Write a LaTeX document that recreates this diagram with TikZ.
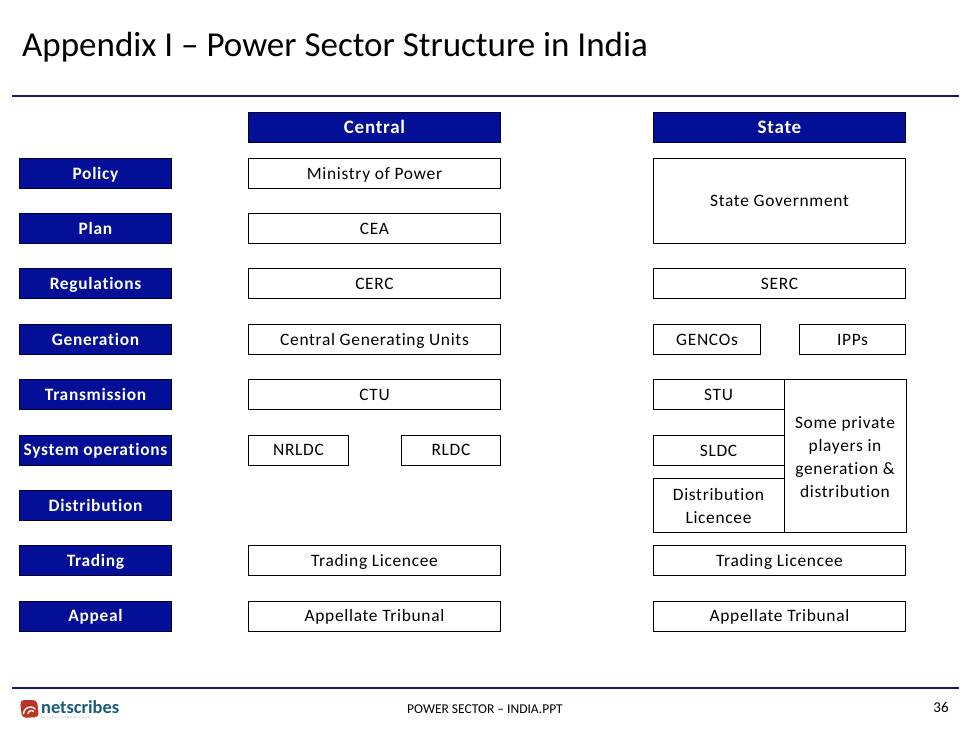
\documentclass[tikz,border=0pt]{standalone}
\usepackage{fontspec}
\setmainfont[Ligatures=NoCommon]{Carlito}
\newfontfamily\spaced[LetterSpace=4,Ligatures=NoCommon]{Carlito}
\newfontfamily\widest[LetterSpace=55]{Carlito}
\definecolor{boxblue}{RGB}{3,15,150}
\definecolor{ruleblue}{RGB}{20,25,110}
\definecolor{logored}{RGB}{185,55,40}
\definecolor{logoteal}{RGB}{25,90,125}
\tikzset{
  rowbox/.style={draw=black!80!blue,fill=boxblue,text=white,minimum width=152,minimum height=30,inner sep=0,text height=12,text depth=1,font=\spaced\fontsize{17.4}{20}\selectfont\bfseries},
  headbox/.style={rowbox,minimum width=252,font=\spaced\fontsize{19}{22}\selectfont\bfseries},
  wbox/.style={draw=black,line width=0.9pt,fill=white,inner sep=0,minimum height=30,align=center,font=\spaced\fontsize{17.4}{23}\selectfont},
  linebox/.style={wbox,text height=12,text depth=1},
  rulebar/.style={draw=ruleblue,line width=2.2pt}
}
\begin{document}
\begin{tikzpicture}[x=1pt,y=-1pt]
  \useasboundingbox (0,0) rectangle (971,728);
  \node[anchor=west,inner sep=0,font=\fontsize{35}{40}\selectfont] (title) at (22,47.5) {Appendix I -- Power Sector Structure in India};
  \coordinate (ruleAl) at (12,96);
  \coordinate (ruleAr) at (959,96);
  \coordinate (ruleBl) at (12,688);
  \coordinate (ruleBr) at (959,688);
  \draw[rulebar] (ruleAl) -- (ruleAr);
  \draw[rulebar] (ruleBl) -- (ruleBr);

  \node[headbox] (central) at (374.5,127.5) {Central};
  \node[headbox] (state) at (779.5,127.5) {State};

  \node[rowbox] (policy) at (95.5,173.5) {Policy};
  \node[rowbox] (plan) at (95.5,228.5) {Plan};
  \node[rowbox] (regulations) at (95.5,283.5) {Regulations};
  \node[rowbox] (generation) at (95.5,339.5) {Generation};
  \node[rowbox] (transmission) at (95.5,394.5) {Transmission};
  \node[rowbox] (sysop) at (95.5,450) {System operations};
  \node[rowbox] (distribution) at (95.5,505.5) {Distribution};
  \node[rowbox] (trading) at (95.5,560.5) {Trading};
  \node[rowbox] (appeal) at (95.5,616) {Appeal};

  \node[linebox,minimum width=252] (mop) at (374.5,173.5) {Ministry of Power};
  \node[linebox,minimum width=252] (cea) at (374.5,228.5) {CEA};
  \node[linebox,minimum width=252] (cerc) at (374.5,283.5) {CERC};
  \node[linebox,minimum width=252] (cgu) at (374.5,339.5) {Central Generating Units};
  \node[linebox,minimum width=252] (ctu) at (374.5,394.5) {CTU};
  \node[linebox,minimum width=100] (nrldc) at (298.5,450) {NRLDC};
  \node[linebox,minimum width=99.5] (rldc) at (451,450) {RLDC};
  \node[linebox,minimum width=252] (tradeC) at (374.5,560.5) {Trading Licencee};
  \node[linebox,minimum width=252] (appealC) at (374.5,616) {Appellate Tribunal};

  \node[linebox,minimum width=252,minimum height=85.5] (stategov) at (779.5,201) {State Government};
  \node[linebox,minimum width=252] (serc) at (779.5,283.5) {SERC};
  \node[linebox,minimum width=107] (gencos) at (707,339.5) {GENCOs};
  \node[linebox,minimum width=106.5] (ipps) at (852.5,339.5) {IPPs};
  \node[wbox,minimum width=122,minimum height=153.5] (private) at (845,456) {\rule{0pt}{14pt}Some private\\players in\\generation \&\\distribution};
  \node[linebox,minimum width=131] (stu) at (718.5,394.5) {STU};
  \node[linebox,minimum width=131] (sldc) at (718.5,450.5) {SLDC};
  \node[wbox,minimum width=131,minimum height=54.5] (licencee) at (718.5,505.5) {\rule{0pt}{14pt}Distribution\\Licencee};
  \node[linebox,minimum width=252] (tradeS) at (779.5,560.5) {Trading Licencee};
  \node[linebox,minimum width=252] (appealS) at (779.5,616) {Appellate Tribunal};

  % logo
  \fill[logored,rounded corners=4] (20,700) -- (37,700) -- (39,717) -- (22,718) -- cycle;
  \draw[white,line width=1.4pt] (23.5,714) arc (-180:-45:7);
  \draw[white,line width=1.4pt] (28,714) arc (-180:-45:3.5);
  \node[anchor=west,inner sep=0,text=logoteal,font=\fontsize{18.4}{20}\selectfont\bfseries] (logo) at (41,707.5) {netscribes};
  \node[anchor=west,inner sep=0,text=black!45,font=\widest\fontsize{2.5}{3}\selectfont] (tagline) at (41,718) {RETURN ON KNOWLEDGE};

  \node[inner sep=0,font=\fontsize{13.5}{15}\selectfont] (footer) at (485,709) {POWER SECTOR -- INDIA.PPT};
  \node[inner sep=0,font=\fontsize{15}{17}\selectfont] (page) at (941,707) {36};
\end{tikzpicture}
\end{document}
